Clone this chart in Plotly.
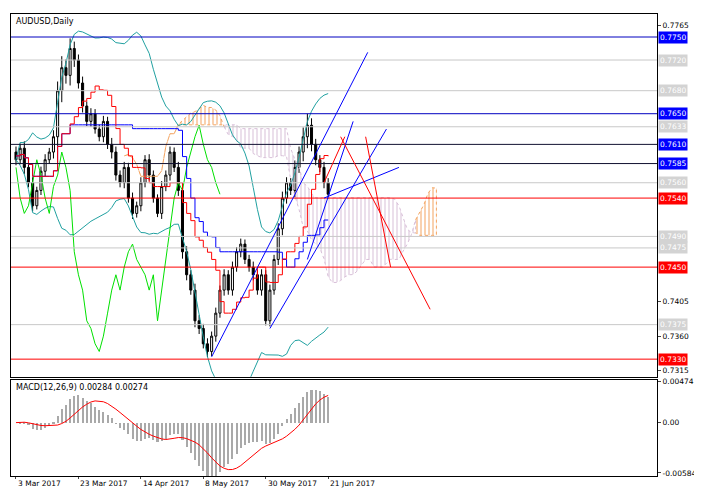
import numpy as np
import plotly.graph_objects as go
from plotly.subplots import make_subplots

# daily closes, AUDUSD, 3 Mar 2017 .. late Jun 2017
closes = [0.7590, 0.7605, 0.7580, 0.7560, 0.7530, 0.7550, 0.7575, 0.7590, 0.7600, 0.7620,
          0.7680, 0.7710, 0.7700, 0.7735, 0.7720, 0.7690, 0.7660, 0.7640, 0.7650, 0.7630,
          0.7620, 0.7640, 0.7610, 0.7600, 0.7570, 0.7560, 0.7580, 0.7540, 0.7520, 0.7530,
          0.7560, 0.7590, 0.7570, 0.7540, 0.7520, 0.7555, 0.7570, 0.7600, 0.7580, 0.7550,
          0.7470, 0.7440, 0.7420, 0.7380, 0.7370, 0.7350, 0.7340, 0.7360, 0.7390, 0.7420,
          0.7440, 0.7420, 0.7450, 0.7470, 0.7480, 0.7460, 0.7450, 0.7440, 0.7420, 0.7440,
          0.7380, 0.7420, 0.7460, 0.7500, 0.7540, 0.7560, 0.7550, 0.7580, 0.7600, 0.7620,
          0.7635, 0.7610, 0.7590, 0.7580, 0.7560, 0.7545]
wicks = [0.0012, 0.0010, 0.0015, 0.0010, 0.0012, 0.0008, 0.0010, 0.0012, 0.0009, 0.0014,
         0.0020, 0.0025, 0.0018, 0.0022, 0.0015, 0.0012, 0.0014, 0.0010, 0.0012, 0.0010,
         0.0010, 0.0012, 0.0010, 0.0014, 0.0012, 0.0010, 0.0012, 0.0010, 0.0012, 0.0009,
         0.0012, 0.0010, 0.0012, 0.0010, 0.0008, 0.0012, 0.0010, 0.0012, 0.0010, 0.0012,
         0.0015, 0.0012, 0.0010, 0.0014, 0.0012, 0.0010, 0.0012, 0.0010, 0.0012, 0.0010,
         0.0012, 0.0010, 0.0012, 0.0010, 0.0012, 0.0010, 0.0010, 0.0012, 0.0010, 0.0012,
         0.0010, 0.0012, 0.0010, 0.0012, 0.0014, 0.0012, 0.0010, 0.0015, 0.0012, 0.0020,
         0.0025, 0.0015, 0.0012, 0.0010, 0.0012, 0.0010]
date_ticks = [0, 15, 30, 45, 60, 75]
date_labels = ["3 Mar 2017", "23 Mar 2017", "14 Apr 2017", "8 May 2017", "30 May 2017", "21 Jun 2017"]
price_ticks = [0.7765, 0.7405, 0.7360, 0.7315]

blue_levels = [0.7750, 0.7650, 0.7610, 0.7585]
red_levels = [0.7540, 0.7450, 0.7330]
gray_levels = [0.7720, 0.7680, 0.7633, 0.7560, 0.7490, 0.7475, 0.7375]

# trend lines: (x0, p0, x1, p1) in bar index / price
blue_lines = [(47, 0.7333, 84.5, 0.7730), (61, 0.7370, 89, 0.7630),
              (74, 0.7540, 92, 0.7580), (70, 0.7460, 81, 0.7640)]
red_lines = [(78, 0.7620, 99.5, 0.7395), (74, 0.7560, 79, 0.7620),
             (84, 0.7620, 90, 0.7450)]

c = np.array(closes)
n = len(c)
o = np.concatenate([[c[0] + 0.0010], c[:-1]])
w = np.array(wicks)
h = np.maximum(o, c) + w * 0.6
l = np.minimum(o, c) - w * 0.6
x = np.arange(n)


def hl_mid(p):
    out = np.full(n, np.nan)
    for i in range(n):
        s = max(0, i - p + 1)
        out[i] = (h[s:i + 1].max() + l[s:i + 1].min()) / 2
    return out


tenkan = hl_mid(9)
kijun = hl_mid(26)
span_a = (tenkan + kijun) / 2
span_b = hl_mid(52)
ma = np.array([c[max(0, i - 19):i + 1].mean() for i in range(n)])
sd = np.array([c[max(0, i - 19):i + 1].std() for i in range(n)])


def ema(v, p):
    k = 2 / (p + 1)
    out = [v[0]]
    for val in v[1:]:
        out.append(out[-1] + k * (val - out[-1]))
    return np.array(out)


macd = ema(c, 12) - ema(c, 26)
signal = np.array([macd[max(0, i - 8):i + 1].mean() for i in range(n)])

fig = make_subplots(rows=2, cols=1, shared_xaxes=True, row_heights=[0.79, 0.21],
                    vertical_spacing=0.006)

# cloud (shifted forward 26)
cx = x + 26
up = span_a >= span_b
start = 0
for i in range(1, n + 1):
    if i == n or up[i] != up[start]:
        seg = slice(start, min(i + 1, n))
        xs = list(cx[seg]) + list(cx[seg][::-1])
        ys = list(span_a[seg]) + list(span_b[seg][::-1])
        col = "#f4a460" if up[start] else "#d8bfd8"
        fig.add_trace(go.Scatter(x=xs, y=ys, fill="toself", mode="lines",
                                 line=dict(color=col, width=1, dash="dot"),
                                 fillcolor="rgba(0,0,0,0)",
                                 fillpattern=dict(shape="|", fgcolor=col, size=4, solidity=0.5),
                                 hoverinfo="skip", showlegend=False), 1, 1)
        start = i

for lv in gray_levels:
    fig.add_hline(y=lv, line=dict(color="#c8c8c8", width=1), row=1, col=1)
for lv in blue_levels:
    fig.add_hline(y=lv, line=dict(color="#0000c0" if lv > 0.763 else "#101030", width=1), row=1, col=1)
for lv in red_levels:
    fig.add_hline(y=lv, line=dict(color="red", width=1), row=1, col=1)

fig.add_trace(go.Scatter(x=x, y=ma + 2 * sd, line=dict(color="#20a0a0", width=1), showlegend=False), 1, 1)
fig.add_trace(go.Scatter(x=x, y=ma - 2 * sd, line=dict(color="#20a0a0", width=1), showlegend=False), 1, 1)
fig.add_trace(go.Scatter(x=x[:n - 26], y=c[26:], line=dict(color="#00e000", width=1),
                         showlegend=False), 1, 1)
fig.add_trace(go.Scatter(x=x, y=kijun, line=dict(color="#0000ff", width=1, shape="hv"), showlegend=False), 1, 1)
fig.add_trace(go.Scatter(x=x, y=tenkan, line=dict(color="red", width=1, shape="hv"), showlegend=False), 1, 1)

fig.add_trace(go.Candlestick(x=x, open=o, high=h, low=l, close=c,
                             increasing=dict(line=dict(color="black", width=1), fillcolor="white"),
                             decreasing=dict(line=dict(color="black", width=1), fillcolor="black"),
                             whiskerwidth=0, showlegend=False), 1, 1)

for x0, p0, x1, p1 in blue_lines:
    fig.add_shape(type="line", x0=x0, y0=p0, x1=x1, y1=p1, line=dict(color="#0000ff", width=1), row=1, col=1)
for x0, p0, x1, p1 in red_lines:
    fig.add_shape(type="line", x0=x0, y0=p0, x1=x1, y1=p1, line=dict(color="red", width=1), row=1, col=1)

# level labels on the price scale
for lv, bg in ([(v, "#0000ff") for v in blue_levels] + [(v, "red") for v in red_levels] +
               [(v, "#d3d3d3") for v in gray_levels]):
    fig.add_annotation(x=1.002, xref="paper", y=lv, yref="y", text="%.4f" % lv, showarrow=False,
                       xanchor="left", bgcolor=bg, font=dict(color="white", size=7.5), borderpad=1)

# date labels, left-anchored at their ticks
for t, s in zip(date_ticks, date_labels):
    fig.add_annotation(x=t, xref="x2", y=0, yref="paper", yshift=-1, text=s, showarrow=False,
                       xanchor="left", yanchor="top", font=dict(size=7.5, color="black"))

fig.add_trace(go.Bar(x=x, y=macd, marker=dict(color="#a9a9a9", line_width=0), width=0.5,
                     showlegend=False), 2, 1)
fig.add_trace(go.Scatter(x=x, y=signal, line=dict(color="red", width=1), showlegend=False), 2, 1)

fig.add_annotation(x=0.004, xref="paper", y=0.998, yref="paper", text="AUDUSD,Daily", showarrow=False,
                   xanchor="left", yanchor="top", font=dict(size=8, color="black"))
fig.add_annotation(x=0.004, xref="paper", y=0.205, yref="paper",
                   text="MACD(12,26,9) 0.00284 0.00274", showarrow=False,
                   xanchor="left", yanchor="top", font=dict(size=8, color="black"))

fig.update_layout(width=690, height=482, margin=dict(l=2, r=36, t=6, b=14),
                  plot_bgcolor="white", paper_bgcolor="white",
                  font=dict(family="DejaVu Sans", size=7.5, color="black"),
                  xaxis_rangeslider_visible=False, bargap=0)
fig.update_xaxes(range=[-1.2, 154], showgrid=False, showline=True, linecolor="black", mirror=True,
                 ticks="", showticklabels=False, row=1, col=1)
fig.update_xaxes(range=[-1.2, 154], showgrid=False, showline=True, linecolor="black", mirror=True,
                 tickvals=date_ticks, ticks="outside", ticklen=2, showticklabels=False, row=2, col=1)
fig.update_yaxes(side="right", range=[0.7307, 0.7780], showgrid=False, showline=True, linecolor="black",
                 mirror=True, tickvals=price_ticks, tickformat=".4f", ticks="outside", ticklen=3,
                 row=1, col=1)
fig.update_yaxes(side="right", range=[-0.0062, 0.0050], showgrid=False, showline=True, linecolor="black",
                 mirror=True, tickvals=[-0.00584, 0, 0.00474], ticktext=["-0.00584", "0.00", "0.00474"],
                 ticks="outside", ticklen=3, zeroline=False, row=2, col=1)

fig.write_html("out.html")
